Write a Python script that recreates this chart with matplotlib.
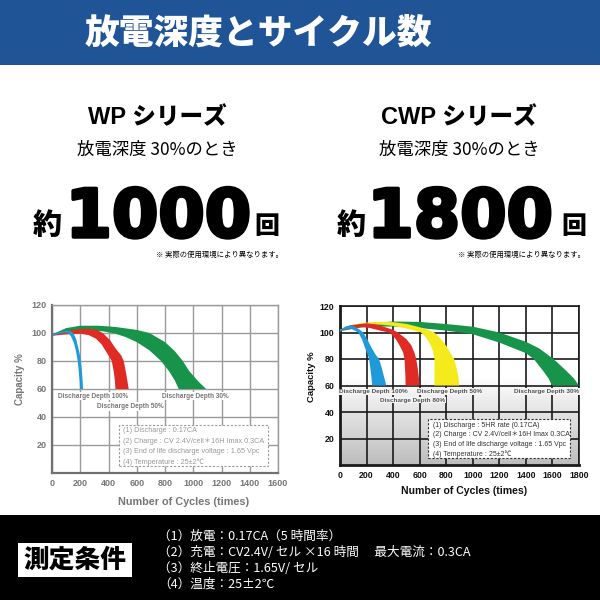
import numpy as np
import matplotlib
matplotlib.use("Agg")
import matplotlib.pyplot as plt
import matplotlib.patheffects as pe
from matplotlib.patches import Rectangle

plt.rcParams['font.family'] = ['Noto Sans CJK JP', 'DejaVu Sans']
EN = ['Liberation Sans', 'Noto Sans CJK JP', 'DejaVu Sans']

# --- text ---
title = '放電深度とサイクル数'
series_names = ['WP シリーズ', 'CWP シリーズ']
subtitle = '放電深度 30%のとき'
cycle_counts = ['1000', '1800']
note = '※ 実際の使用環境により異なります。'
cond_title = '測定条件'
conditions = [
    '（1）放電：0.17CA（5 時間率）',
    '（2）充電：CV2.4V/ セル ×16 時間　 最大電流：0.3CA',
    '（3）終止電圧：1.65V/ セル',
    '（4）温度：25±2℃',
]

# --- WP chart (left): each band = outer edge + inner edge ---
wp_x_ticks = [0, 200, 400, 600, 800, 1000, 1200, 1400, 1600]
wp_labels = ['Discharge Depth 100%', 'Discharge Depth 50%', 'Discharge Depth 30%']
wp_label_pos = [(294, 55), (553, 47.7), (1012, 55)]
wp_notes = ['(1) Discharge : 0.17CA',
            '(2) Charge : CV 2.4V/cell＊16H Imax 0.3CA',
            '(3) End of life discharge voltage : 1.65 Vpc',
            '(4) Temperature : 25±2℃']

wp_green_out_x = [0, 100, 200, 330, 450, 600, 690, 800, 870, 926, 970, 1030, 1091]
wp_green_out_y = [99, 103.5, 105.2, 105.2, 104.3, 102.2, 100, 93.5, 87, 80, 73, 66, 60]
wp_green_in_x = [0, 100, 217, 359, 450, 524, 600, 690, 772, 830, 870, 897]
wp_green_in_y = [98, 100.5, 102.2, 101.2, 99.5, 97, 93.5, 87.6, 80, 72.5, 66, 60]

wp_red_out_x = [0, 100, 200, 264, 320, 360, 410, 450, 490, 508, 527, 543]
wp_red_out_y = [99, 101.5, 102.8, 103, 102, 100, 95, 89, 84, 80, 70, 60]
wp_red_in_x = [0, 100, 200, 260, 310, 350, 375, 400, 423, 438, 445, 449]
wp_red_in_y = [98, 99, 99.5, 98.5, 96, 92, 88, 84, 80, 72, 66, 60]

wp_blue_out_x = [0, 50, 100, 130, 150, 170, 185, 200, 210, 216, 220]
wp_blue_out_y = [99, 100.5, 101.8, 101.5, 100, 96, 90, 83, 75, 67, 60]
wp_blue_in_x = [0, 50, 90, 115, 135, 155, 170, 182, 190, 195, 198]
wp_blue_in_y = [98, 99.3, 100.3, 100, 97.5, 93, 87, 80, 72, 66, 60]

# --- CWP chart (right) ---
cwp_x_ticks = [0, 200, 400, 600, 800, 1000, 1200, 1400, 1600, 1800]
cwp_labels = ['Discharge Depth 100%', 'Discharge Depth 80%',
              'Discharge Depth 50%', 'Discharge Depth 30%']
cwp_label_pos = [(251, 55.2), (546, 49), (827, 55.5), (1554, 55.5)]
cwp_notes = ['(1) Discharge : 5HR rate (0.17CA)',
             '(2) Charge : CV 2.4V/cell＊16H Imax 0.3CA',
             '(3) End of life discharge voltage : 1.65 Vpc',
             '(4) Temperature : 25±2℃']

cwp_green_out_x = [0, 200, 400, 600, 800, 1000, 1200, 1400, 1500, 1608, 1700, 1760, 1800]
cwp_green_out_y = [102, 107, 108.3, 108, 106.4, 104.4, 100, 93, 88, 80, 71.5, 65.5, 60]
cwp_green_in_x = [0, 200, 400, 600, 800, 1000, 1200, 1400, 1459, 1530, 1570, 1596]
cwp_green_in_y = [101, 104.5, 104.5, 103.4, 101.4, 98.7, 92.4, 84.4, 80, 71, 65.5, 60]

cwp_yellow_out_x = [0, 100, 200, 300, 400, 500, 600, 660, 711, 760, 800, 835, 860, 880, 892, 898]
cwp_yellow_out_y = [102, 106, 107.5, 108, 107.8, 106.5, 104, 102, 100, 95, 90, 84, 80, 72, 66, 60]
cwp_yellow_in_x = [0, 100, 200, 300, 400, 500, 560, 611, 650, 680, 700, 712, 712, 711]
cwp_yellow_in_y = [101, 104, 105.5, 106, 105, 103, 101.5, 100, 96, 91, 86, 80, 70, 60]

cwp_red_out_x = [0, 80, 200, 280, 340, 400, 436, 500, 536, 560, 574, 587, 595, 599]
cwp_red_out_y = [102, 105.5, 107, 106, 104, 102, 100, 95, 90.5, 85, 80, 72, 65, 60]
cwp_red_in_x = [0, 80, 160, 220, 280, 330, 374, 420, 450, 475, 486, 490, 493, 494]
cwp_red_in_y = [101, 103, 104, 103.5, 102, 100.8, 100, 95, 90, 85, 80, 72, 66, 60]

cwp_blue_out_x = [0, 40, 82, 120, 150, 175, 210, 240, 270, 294, 315, 333, 349]
cwp_blue_out_y = [102, 104.5, 105.5, 104, 102, 100, 94, 88, 83, 80, 73, 66, 60]
cwp_blue_in_x = [0, 40, 80, 110, 137, 165, 190, 210, 219, 230, 237, 242]
cwp_blue_in_y = [100.5, 102.5, 103, 101.5, 100, 95, 88, 83, 80, 72, 66, 60]

GREEN, RED, BLUE, YELLOW = '#17944a', '#e02a24', '#1e9ad8', '#f4ea1c'


def band(ax, xo, yo, xi, yi, color):
    ax.fill(list(xo) + list(xi[::-1]), list(yo) + list(yi[::-1]),
            color=color, lw=0, zorder=3)


fig = plt.figure(figsize=(6, 6), dpi=100)
fig.patch.set_facecolor('white')

# header band
fig.patches.append(Rectangle((0, 1 - 65 / 600), 1, 65 / 600, transform=fig.transFigure,
                             facecolor='#1f5597', edgecolor='none', zorder=0))
fig.text(0.43, 0.945, title, color='white', fontsize=25, fontweight='black',
         ha='center', va='center')

# series headlines
for cx, name, num in [(0.262, series_names[0], cycle_counts[0]),
                      (0.765, series_names[1], cycle_counts[1])]:
    fig.text(cx, 0.803, name, fontsize=17, fontweight='black', ha='center', va='center',
             family=EN)
    fig.text(cx, 0.75, subtitle, fontsize=12.5, ha='center', va='center')
    fig.text(cx + 0.002, 0.605, num, fontsize=48, fontweight='bold', family='DejaVu Sans',
             ha='center', va='baseline',
             path_effects=[pe.withStroke(linewidth=2.5, foreground='black')])

fig.text(0.079, 0.624, '約', fontsize=21, fontweight='black', ha='center', va='center')
fig.text(0.444, 0.623, '回', fontsize=18, fontweight='black', ha='center', va='center')
fig.text(0.585, 0.624, '約', fontsize=21, fontweight='black', ha='center', va='center')
fig.text(0.957, 0.623, '回', fontsize=18, fontweight='black', ha='center', va='center')
fig.text(0.472, 0.576, note, fontsize=5.3, ha='right', va='center')
fig.text(0.975, 0.576, note, fontsize=5.3, ha='right', va='center')

# ---------- left chart ----------
ax1 = fig.add_axes([52 / 600, 1 - 473 / 600, 226 / 600, 168 / 600])
ax1.set_xlim(0, 1600)
ax1.set_ylim(0, 120)
ax1.set_xticks(wp_x_ticks)
ax1.set_yticks([20, 40, 60, 80, 100, 120])
ax1.grid(True, color='#9a9a9a', lw=1.0, zorder=1)
ax1.set_axisbelow(True)
for s in ['top', 'right']:
    ax1.spines[s].set_color('#9a9a9a')
    ax1.spines[s].set_linewidth(1.0)
for s in ['left', 'bottom']:
    ax1.spines[s].set_color('#707070')
    ax1.spines[s].set_linewidth(1.6)
ax1.tick_params(length=0, labelsize=6.5, labelcolor='#777777', pad=4)
for lab in ax1.get_xticklabels() + ax1.get_yticklabels():
    lab.set_fontweight('bold')
    lab.set_family(EN)
ax1.set_ylabel('Capacity %', fontsize=7, color='#777777', fontweight='bold', family=EN)
ax1.set_xlabel('Number of Cycles (times)', fontsize=7.8, color='#777777',
               fontweight='bold', family=EN)
ax1.yaxis.set_label_coords(-0.12, 0.56)
ax1.xaxis.set_label_coords(0.58, -0.14)

band(ax1, wp_green_out_x, wp_green_out_y, wp_green_in_x, wp_green_in_y, GREEN)
band(ax1, wp_red_out_x, wp_red_out_y, wp_red_in_x, wp_red_in_y, RED)
band(ax1, wp_blue_out_x, wp_blue_out_y, wp_blue_in_x, wp_blue_in_y, BLUE)

for lab, (lx, ly) in zip(wp_labels, wp_label_pos):
    ax1.text(lx, ly, lab, fontsize=4.7, fontweight='bold', color='#777777',
             ha='center', va='center', family=EN, zorder=4,
             bbox=dict(facecolor='white', edgecolor='none', pad=0.6))

ax1.add_patch(Rectangle((475, 4.8), 1057, 29.2, facecolor='white', edgecolor='#9a9a9a',
                        lw=0.8, ls=(0, (2, 1.5)), zorder=4))
for i, t in enumerate(wp_notes):
    ax1.text(506, 30.5 - 7.5 * i, t, fontsize=5.2, color='#999999', va='center',
             family=EN, zorder=5)

# ---------- right chart ----------
ax2 = fig.add_axes([340 / 600, 1 - 465 / 600, 239 / 600, 159 / 600])
ax2.set_xlim(0, 1800)
ax2.set_ylim(0, 120)
grad = np.linspace(0, 1, 256).reshape(-1, 1)
ax2.imshow(grad, extent=[0, 1800, 0, 120], aspect='auto', origin='upper',
           cmap=matplotlib.colors.LinearSegmentedColormap.from_list(
               'bg', [(0, '#ffffff'), (0.45, '#ffffff'), (0.55, '#f2f2f2'),
                      (1, '#bdbdbd')]), zorder=0)
ax2.set_xticks(cwp_x_ticks)
ax2.set_yticks([20, 40, 60, 80, 100, 120])
ax2.grid(True, color='#1a1a1a', lw=1.2, zorder=1)
ax2.set_axisbelow(True)
for s in ['top', 'right']:
    ax2.spines[s].set_color('#1a1a1a')
    ax2.spines[s].set_linewidth(1.2)
for s in ['left', 'bottom']:
    ax2.spines[s].set_color('#1a1a1a')
    ax2.spines[s].set_linewidth(2.0)
ax2.tick_params(length=0, labelsize=6.3, labelcolor='#111111', pad=4)
for lab in ax2.get_xticklabels() + ax2.get_yticklabels():
    lab.set_fontweight('bold')
    lab.set_family(EN)
ax2.set_ylabel('Capacity %', fontsize=6.8, color='#111111', fontweight='bold', family=EN)
ax2.set_xlabel('Number of Cycles (times)', fontsize=7.6, color='#111111',
               fontweight='bold', family=EN)
ax2.yaxis.set_label_coords(-0.10, 0.553)
ax2.xaxis.set_label_coords(0.519, -0.135)

band(ax2, cwp_green_out_x, cwp_green_out_y, cwp_green_in_x, cwp_green_in_y, GREEN)
band(ax2, cwp_yellow_out_x, cwp_yellow_out_y, cwp_yellow_in_x, cwp_yellow_in_y, YELLOW)
band(ax2, cwp_red_out_x, cwp_red_out_y, cwp_red_in_x, cwp_red_in_y, RED)
band(ax2, cwp_blue_out_x, cwp_blue_out_y, cwp_blue_in_x, cwp_blue_in_y, BLUE)

for lab, (lx, ly) in zip(cwp_labels, cwp_label_pos):
    ax2.text(lx, ly, lab, fontsize=4.6, fontweight='bold', color='#555555',
             ha='center', va='center', family=EN, zorder=4,
             bbox=dict(facecolor='#f4f4f4', edgecolor='none', pad=0.6))

ax2.add_patch(Rectangle((659, 5), 1070, 30, facecolor='white', edgecolor='#333333',
                        lw=0.8, ls=(0, (2, 1.5)), zorder=4))
for i, t in enumerate(cwp_notes):
    ax2.text(697, 30.1 - 7.3 * i, t, fontsize=5.0, color='#333333', va='center',
             family=EN, zorder=5)

# ---------- bottom band ----------
fig.patches.append(Rectangle((0, 0), 1, 85 / 600, transform=fig.transFigure,
                             facecolor='black', edgecolor='none', zorder=0))
fig.patches.append(Rectangle((18 / 600, 1 - 577 / 600), 114 / 600, 34 / 600,
                             transform=fig.transFigure, facecolor='white',
                             edgecolor='none', zorder=1))
fig.text(75 / 600, 1 - 560 / 600, cond_title, fontsize=18.5, fontweight='black',
         color='black', ha='center', va='center', zorder=2)
for i, t in enumerate(conditions):
    fig.text(158 / 600, 1 - (536 + 16 * i) / 600, t, fontsize=9.1, color='white',
             ha='left', va='center')

fig.savefig('out.png', dpi=100)
